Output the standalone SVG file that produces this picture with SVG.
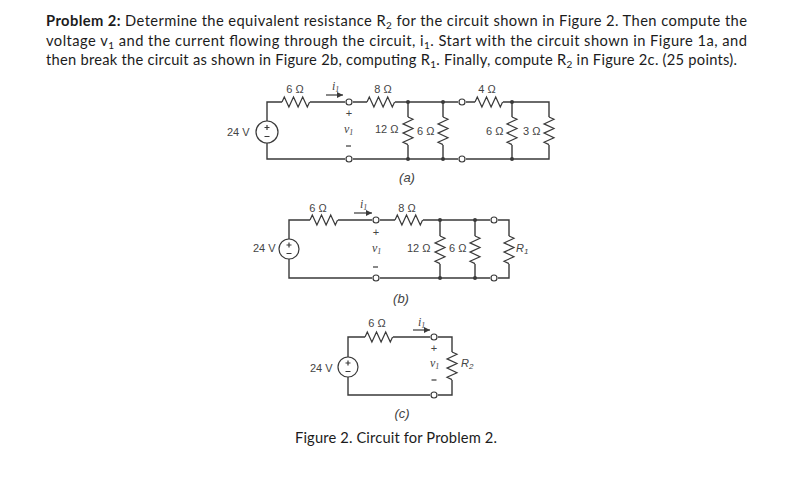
<svg xmlns="http://www.w3.org/2000/svg" width="797" height="490" viewBox="0 0 797 490">
<style>
.w{fill:none;stroke:#3a3a3a;stroke-width:1.4}
.r{fill:none;stroke:#3a3a3a;stroke-width:1.2;stroke-linejoin:miter}
.t{fill:#fff;stroke:#3a3a3a;stroke-width:1.2}
.d{fill:#3a3a3a}
.s{fill:none;stroke:#3a3a3a;stroke-width:1.2}
text{font-family:"Liberation Sans",Arial,sans-serif;font-size:11px;fill:#444}
.m{text-anchor:middle}
.b{font-family:Lato,"Noto Sans",sans-serif;font-size:14.7px;fill:#1c1c1c}
.i{font-family:"Liberation Serif",serif;font-style:italic;font-size:12px}
.u{font-family:"Liberation Sans",Arial,sans-serif;font-style:italic;font-size:13px}
.q{font-family:"Liberation Sans",Arial,sans-serif;font-style:italic;font-size:11px}
.n{font-family:"Liberation Serif",serif;font-style:italic;font-size:12px}
</style>
<defs>
<path id="rh" class="r" d="M0 0l2.300-5 4.600 10 4.600-10 4.600 10 4.600-10 4.600 10 2.300-5"/>
<path id="rv" class="r" d="M0 0l5 2.300-10 4.600 10 4.600-10 4.600 10 4.600-10 4.600 5 2.300"/>
<marker id="a" markerWidth="6" markerHeight="6" refX="5" refY="2.500" orient="auto"><path d="M0 0L5 2.500 0 5z" fill="#3a3a3a"/></marker>
</defs>
<g id="problem-text">
<text class="b" x="46" y="26" textLength="701" lengthAdjust="spacing"><tspan font-weight="700">Problem 2:</tspan> Determine the equivalent resistance R<tspan font-size="10" dy="3">2</tspan><tspan dy="-3"> for the circuit shown in Figure 2. Then compute the</tspan></text>
<text class="b" x="46" y="46" textLength="701" lengthAdjust="spacing">voltage v<tspan font-size="10" dy="3">1</tspan><tspan dy="-3"> and the current flowing through the circuit, i</tspan><tspan font-size="10" dy="3">1</tspan><tspan dy="-3">. Start with the circuit shown in Figure 1a, and</tspan></text>
<text class="b" x="46" y="65" textLength="691" lengthAdjust="spacing">then break the circuit as shown in Figure 2b, computing R<tspan font-size="10" dy="3">1</tspan><tspan dy="-3">. Finally, compute R</tspan><tspan font-size="10" dy="3">2</tspan><tspan dy="-3"> in Figure 2c. (25 points).</tspan></text>
</g>
<g id="connectors">
<path class="w" d="M267 121V102H282M310 102H345M353 102H367M395 102H458M466 102H475M503 102H549V117M549 145V159H466M458 159H353M345 159H267V143M408 102V117M408 145V159M443 102V117M443 145V159M512 102V117M512 145V159"/>
<path class="w" d="M289 239V220H310M338 220H372M380 220H395M423 220H490M498 220H509V236M509 264V278H498M490 278H380M372 278H289V259M440 220V236M440 264V278M475 220V236M475 264V278"/>
<path class="w" d="M348 357V337H365M393 337H430M438 337H452V352M452 380V395H438M430 395H348V377"/>
<path class="s" marker-end="url(#a)" d="M326 95H343"/>
<path class="s" marker-end="url(#a)" d="M354 213H372"/>
<path class="s" marker-end="url(#a)" d="M413 330H430"/>
</g>
<g id="circuit-a">
<g id="a-source"><circle class="t" cx="267" cy="132" r="11"/><path class="s" d="M264.500 127.500h5M267 125v5M264.500 136.500h5"/><text x="227" y="136">24 V</text></g>
<g id="a-r6"><use href="#rh" x="282" y="102"/><text class="m" x="295" y="93">6 Ω</text></g>
<g id="a-i1"><text class="i" x="332" y="90">i<tspan font-size="8" dy="2">1</tspan></text></g>
<g id="a-t1"><circle class="t" cx="349" cy="102" r="3"/><text class="m" x="349" y="117">+</text><text class="n" x="344" y="133">v<tspan font-size="8" dy="2">1</tspan></text><path class="s" d="M346 146h5"/></g>
<g id="a-t2"><circle class="t" cx="349" cy="159" r="3"/></g>
<g id="a-r8"><use href="#rh" x="367" y="102"/><text class="m" x="383" y="93">8 Ω</text></g>
<g id="a-r12"><use href="#rv" x="408" y="117"/><text x="375" y="133">12 Ω</text></g>
<g id="a-r6b"><use href="#rv" x="443" y="117"/><text x="417" y="135">6 Ω</text></g>
<g id="a-j"><circle class="d" cx="408" cy="102" r="2"/><circle class="d" cx="443" cy="102" r="2"/><circle class="d" cx="408" cy="159" r="2"/><circle class="d" cx="443" cy="159" r="2"/><circle class="d" cx="512" cy="102" r="2"/><circle class="d" cx="512" cy="159" r="2"/></g>
<g id="a-t3"><circle class="t" cx="462" cy="102" r="3"/></g>
<g id="a-t4"><circle class="t" cx="462" cy="159" r="3"/></g>
<g id="a-r4"><use href="#rh" x="475" y="102"/><text class="m" x="487" y="93">4 Ω</text></g>
<g id="a-r6c"><use href="#rv" x="512" y="117"/><text x="486" y="135">6 Ω</text></g>
<g id="a-r3"><use href="#rv" x="549" y="117"/><text x="523" y="135">3 Ω</text></g>
<text class="m u" x="407" y="182">(a)</text>
</g>
<g id="circuit-b">
<g id="b-source"><circle class="t" cx="289" cy="249" r="10"/><path class="s" d="M286.500 245h5M289 242.500v5M286.500 253.500h5"/><text x="253" y="252">24 V</text></g>
<g id="b-r6"><use href="#rh" x="310" y="220"/><text class="m" x="318" y="212">6 Ω</text></g>
<g id="b-i1"><text class="i" x="360" y="208">i<tspan font-size="8" dy="2">1</tspan></text></g>
<g id="b-t1"><circle class="t" cx="376" cy="220" r="3"/><text class="m" x="376" y="236">+</text><text class="n" x="372" y="252">v<tspan font-size="8" dy="2">1</tspan></text><path class="s" d="M373 267h5"/></g>
<g id="b-t2"><circle class="t" cx="376" cy="278" r="3"/></g>
<g id="b-r8"><use href="#rh" x="395" y="220"/><text class="m" x="407" y="212">8 Ω</text></g>
<g id="b-r12"><use href="#rv" x="440" y="236"/><text x="407" y="252">12 Ω</text></g>
<g id="b-r6b"><use href="#rv" x="475" y="236"/><text x="449" y="252">6 Ω</text></g>
<g id="b-j"><circle class="d" cx="440" cy="220" r="2"/><circle class="d" cx="475" cy="220" r="2"/><circle class="d" cx="440" cy="278" r="2"/><circle class="d" cx="475" cy="278" r="2"/></g>
<g id="b-t3"><circle class="t" cx="494" cy="220" r="3"/></g>
<g id="b-t4"><circle class="t" cx="494" cy="278" r="3"/></g>
<g id="b-r1"><use href="#rv" x="509" y="236"/><text class="q" x="516" y="252">R<tspan font-size="8" dy="2">1</tspan></text></g>
<text class="m u" x="401" y="303">(b)</text>
</g>
<g id="circuit-c">
<g id="c-source"><circle class="t" cx="348" cy="367" r="10"/><path class="s" d="M345.500 363h5M348 360.500v5M345.500 371.500h5"/><text x="310" y="372">24 V</text></g>
<g id="c-r6"><use href="#rh" x="365" y="337"/><text class="m" x="377" y="327">6 Ω</text></g>
<g id="c-i1"><text class="i" x="418" y="326">i<tspan font-size="8" dy="2">1</tspan></text></g>
<g id="c-t1"><circle class="t" cx="434" cy="337" r="3"/><text class="m" x="434" y="352">+</text><text class="n" x="430" y="367">v<tspan font-size="8" dy="2">1</tspan></text><path class="s" d="M431.500 380h5"/></g>
<g id="c-t2"><circle class="t" cx="434" cy="395" r="3"/></g>
<g id="c-r2"><use href="#rv" x="452" y="352"/><text class="q" x="461" y="367">R<tspan font-size="8" dy="2">2</tspan></text></g>
<text class="m u" x="402" y="418">(c)</text>
</g>
<text id="caption" class="b" x="295" y="443" textLength="202" lengthAdjust="spacing">Figure 2. Circuit for Problem 2.</text>
</svg>
